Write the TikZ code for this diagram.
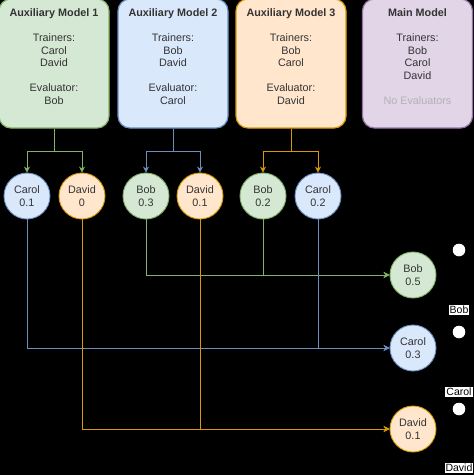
\documentclass[tikz,border=0pt]{standalone}
\usepackage{fontspec}
\setmainfont{Liberation Sans}
\usepackage{xcolor}
\usetikzlibrary{arrows.meta,shapes,positioning,calc}

\definecolor{greenbg}{HTML}{D5E8D4}
\definecolor{greenln}{HTML}{82B366}
\definecolor{bluebg}{HTML}{DAE8FC}
\definecolor{blueln}{HTML}{6C8EBF}
\definecolor{orangebg}{HTML}{FFE6CC}
\definecolor{orangeln}{HTML}{D79B00}
\definecolor{purplebg}{HTML}{E1D5E7}
\definecolor{purpleln}{HTML}{9673A6}
\definecolor{txt}{HTML}{333333}

\tikzset{
	model/.style={shape=rectangle,rounded corners=12pt,line width=1.2pt,minimum width=110pt,minimum height=129pt,inner sep=0pt},
	modeltext/.style={align=center,inner sep=0pt,text=txt,font=\fontsize{10.8}{12.5}\selectfont},
	score/.style={shape=circle,minimum size=46pt,inner sep=0pt,line width=0.9pt,align=center,text=txt,font=\fontsize{10.8}{12.5}\selectfont},
	greenc/.style={fill=greenbg,draw=greenln},
	bluec/.style={fill=bluebg,draw=blueln},
	orangec/.style={fill=orangebg,draw=orangeln},
	purplec/.style={fill=purplebg,draw=purpleln},
	conn/.style={line width=0.8pt,-{Stealth[length=6pt,width=6pt]}},
	dot/.style={shape=circle,fill=white,minimum size=12.6pt,inner sep=0pt},
	tag/.style={fill=white,text=black,inner sep=1pt,font=\fontsize{10.5}{11}\selectfont}
}

\begin{document}
\begin{tikzpicture}[x=1pt,y=-1pt]
	\fill[black] (0,0) rectangle (474,475);
	\useasboundingbox (0,0) rectangle (474,475);
	% models
	\node[model,greenc](AM1) at (54,63.5) {};
	\node[model,bluec](AM2) at (173,63.5) {};
	\node[model,orangec](AM3) at (291,63.5) {};
	\node[model,purplec](MM) at (417.5,63.5) {};
	\node[modeltext,below=10.5pt of AM1.north](AM1T) {\textbf{Auxiliary Model 1}\\[12.5pt]Trainers:\\Carol\\David\\[12.5pt]Evaluator:\\Bob};
	\node[modeltext,below=10.5pt of AM2.north](AM2T) {\textbf{Auxiliary Model 2}\\[12.5pt]Trainers:\\Bob\\David\\[12.5pt]Evaluator:\\Carol};
	\node[modeltext,below=10.5pt of AM3.north](AM3T) {\textbf{Auxiliary Model 3}\\[12.5pt]Trainers:\\Bob\\Carol\\[12.5pt]Evaluator:\\David};
	\node[modeltext,below=10.5pt of MM.north](MMT) {\textbf{Main Model}\\[12.5pt]Trainers:\\Bob\\Carol\\David\\[12.5pt]\textcolor{black!30}{No Evaluators}};
	% evaluation scores
	\node[score,bluec](C1) at (27,196) {Carol\\0.1};
	\node[score,orangec](D1) at (82,196) {David\\0};
	\node[score,greenc](B2) at (146,196) {Bob\\0.3};
	\node[score,orangec](D2) at (200,196) {David\\0.1};
	\node[score,greenc](B3) at (263,196) {Bob\\0.2};
	\node[score,bluec](C3) at (318,196) {Carol\\0.2};
	% totals
	\node[score,greenc](BT) at (413,275) {Bob\\0.5};
	\node[score,bluec](CT) at (413,348) {Carol\\0.3};
	\node[score,orangec](DT) at (413,429) {David\\0.1};
	% stray marks on the right
	\node[dot](P1) at (459,250) {};
	\node[dot](P2) at (459,332) {};
	\node[dot](P3) at (459,409) {};
	\node[tag](LB) at (459,310) {Bob};
	\node[tag](LC) at (459,392) {Carol};
	\node[tag](LD) at (459,468) {David};
	% model to scores
	\draw[conn,greenln](AM1.south) -- ++(0,23) -| (C1);
	\draw[conn,greenln](AM1.south) -- ++(0,23) -| (D1);
	\draw[conn,blueln](AM2.south) -- ++(0,23) -| (B2);
	\draw[conn,blueln](AM2.south) -- ++(0,23) -| (D2);
	\draw[conn,orangeln](AM3.south) -- ++(0,23) -| (B3);
	\draw[conn,orangeln](AM3.south) -- ++(0,23) -| (C3);
	% scores to totals
	\draw[conn,greenln](B2) |- (BT);
	\draw[conn,greenln](B3) |- (BT);
	\draw[conn,blueln](C1) |- (CT);
	\draw[conn,blueln](C3) |- (CT);
	\draw[conn,orangeln](D1) |- (DT);
	\draw[conn,orangeln](D2) |- (DT);
\end{tikzpicture}
\end{document}
